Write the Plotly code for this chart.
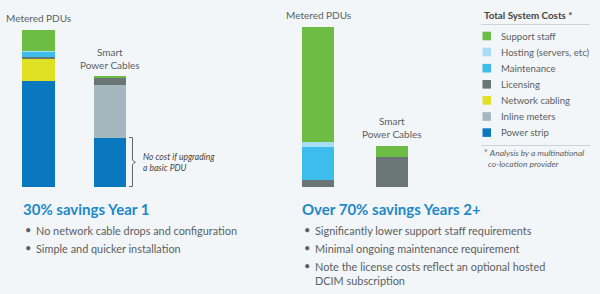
import plotly.graph_objects as go

W, H = 600, 294

categories = ["Metered PDUs", "Smart Power Cables"]
cat_labels = ["Metered PDUs", "Smart<br>Power Cables"]
series = ["Power strip", "Inline meters", "Network cabling", "Licensing",
          "Maintenance", "Hosting (servers, etc)", "Support staff"]
colors = {"Power strip": "#0a78be", "Inline meters": "#a4b6be",
          "Network cabling": "#e0e024", "Licensing": "#6a7575",
          "Maintenance": "#3dbdec", "Hosting (servers, etc)": "#a9dcf6",
          "Support staff": "#6dbd45"}

# Year 1 values (relative cost units)
year1 = {"Power strip": [106, 49.5], "Inline meters": [0, 52.5],
         "Network cabling": [22.5, 0], "Licensing": [1.5, 7],
         "Maintenance": [5.5, 0], "Hosting (servers, etc)": [0.8, 0],
         "Support staff": [21, 1.5]}
# Years 2+ values
year2 = {"Power strip": [0, 0], "Inline meters": [0, 0],
         "Network cabling": [0, 0], "Licensing": [6.7, 30],
         "Maintenance": [33, 0], "Hosting (servers, etc)": [5.6, 0],
         "Support staff": [114.3, 11]}

title1 = "30% savings Year 1"
title2 = "Over 70% savings Years 2+"
bullets1 = ["No network cable drops and configuration", "Simple and quicker installation"]
bullets2 = ["Significantly lower support staff requirements",
            "Minimal ongoing maintenance requirement",
            "Note the license costs reflect an optional hosted<br>DCIM subscription"]
legend_title = "Total System Costs *"
footnote = "* <i>Analysis by a multinational<br>  co-location provider</i>"
bracket_note = "<i>No cost if upgrading<br>a basic PDU</i>"

FONT = "Lato"
TXT = "#5a5f63"

fig = go.Figure()
for s in series:
    fig.add_trace(go.Bar(x=categories, y=year1[s], marker_color=colors[s],
                         marker_line_width=0, width=0.46, xaxis="x", yaxis="y",
                         showlegend=False, name=s))
    fig.add_trace(go.Bar(x=categories, y=year2[s], marker_color=colors[s],
                         marker_line_width=0, width=0.43, xaxis="x2", yaxis="y",
                         showlegend=False, name=s))

def px(x):
    return x / W

def py(y):
    return 1 - y / H

ann = []
shapes = []
# bar labels
for xa, data in (("x", year1), ("x2", year2)):
    for i, c in enumerate(categories):
        tot = sum(data[s][i] for s in series)
        ann.append(dict(x=c, y=tot, xref=xa, yref="y", text=cat_labels[i],
                        showarrow=False, yanchor="bottom", yshift=4,
                        font=dict(family=FONT, size=10, color=TXT)))

# bracket next to Smart bar (power strip segment)
ps = year1["Power strip"][1]
shapes.append(dict(type="path", xref="paper", yref="y",
                   path="M %f,%f L %f,%f L %f,%f L %f,%f L %f,%f L %f,%f L %f,%f" % (
                       px(129), ps, px(132.5), ps, px(132.5), ps / 2 + 2,
                       px(135.5), ps / 2, px(132.5), ps / 2 - 2,
                       px(132.5), 0.5, px(129), 0.5),
                   line=dict(color="#666", width=1)))
ann.append(dict(x=px(141), y=ps / 2, xref="paper", yref="y", text=bracket_note,
                showarrow=False, xanchor="left", yanchor="middle", align="left",
                font=dict(family=FONT, size=8.6, color="#444")))

# section titles and bullets
for x0, title, bl in ((22, title1, bullets1), (301, title2, bullets2)):
    ann.append(dict(x=px(x0 - 1), y=py(209), xref="paper", yref="paper", text="<b>" + title + "</b>",
                    showarrow=False, xanchor="left", yanchor="middle",
                    font=dict(family=FONT, size=15, color="#1e88c8")))
    yy = 229
    for b in bl:
        nlines = b.count("<br>") + 1
        ann.append(dict(x=px(x0 + 1), y=py(yy), xref="paper", yref="paper", text="•",
                        showarrow=False, xanchor="left", yanchor="middle",
                        font=dict(family=FONT, size=11, color=TXT)))
        ann.append(dict(x=px(x0 + 12), y=py(yy - 7), xref="paper", yref="paper", text=b,
                        showarrow=False, xanchor="left", yanchor="top", align="left",
                        font=dict(family=FONT, size=10.9, color=TXT)))
        yy += 18 + (nlines - 1) * 11

# legend
ann.append(dict(x=px(482), y=py(15), xref="paper", yref="paper", text="<b>" + legend_title + "</b>",
                showarrow=False, xanchor="left", yanchor="middle",
                font=dict(family=FONT, size=9.8, color="#444")))
shapes.append(dict(type="line", xref="paper", yref="paper", x0=px(481), x1=px(590),
                   y0=py(24.5), y1=py(24.5), line=dict(color="#cdd2d5", width=1)))
for k, s in enumerate(reversed(series)):
    yc = 36 + k * 16.1
    shapes.append(dict(type="rect", xref="paper", yref="paper", x0=px(482.5), x1=px(491),
                       y0=py(yc - 4.3), y1=py(yc + 4.3), fillcolor=colors[s], line_width=0))
    ann.append(dict(x=px(498.5), y=py(yc), xref="paper", yref="paper", text=s,
                    showarrow=False, xanchor="left", yanchor="middle",
                    font=dict(family=FONT, size=9.6, color=TXT)))
shapes.append(dict(type="line", xref="paper", yref="paper", x0=px(481), x1=px(590),
                   y0=py(145.5), y1=py(145.5), line=dict(color="#cdd2d5", width=1)))
ann.append(dict(x=px(482), y=py(158.5), xref="paper", yref="paper", text=footnote,
                showarrow=False, xanchor="left", yanchor="middle", align="left",
                font=dict(family=FONT, size=8.5, color=TXT)))

base = 187
axis_common = dict(showticklabels=False, showgrid=False, zeroline=False, showline=False,
                   fixedrange=True, type="category", range=[-0.5, 1.5])
fig.update_layout(
    width=W, height=H, margin=dict(l=0, r=0, t=0, b=0),
    paper_bgcolor="#f3f6f8", plot_bgcolor="rgba(0,0,0,0)",
    barmode="stack", showlegend=False,
    xaxis=dict(domain=[px(38.5 - 35.75), px(110 + 35.75)], **axis_common),
    xaxis2=dict(domain=[px(318 - 37), px(392 + 37)], anchor="y", **axis_common),
    yaxis=dict(domain=[0, 1], range=[-(H - base), base], showticklabels=False,
               showgrid=False, zeroline=False, fixedrange=True),
    annotations=ann, shapes=shapes,
    font=dict(family=FONT),
)
fig.write_html("out.html")
